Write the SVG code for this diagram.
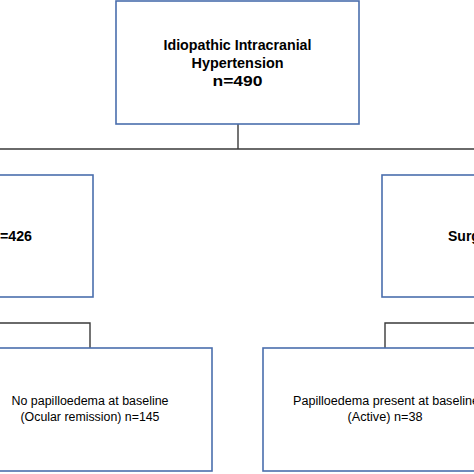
<svg xmlns="http://www.w3.org/2000/svg" width="474" height="474" viewBox="0 0 474 474">
<style>
.box{fill:#fff;stroke:#4a6ead;stroke-width:1.6}
.ln{fill:none;stroke:#3a3a3a;stroke-width:1.4}
.b{font-family:"Liberation Sans",Arial,sans-serif;font-weight:bold;font-size:14px;fill:#000;text-anchor:middle}
.r{font-family:"Liberation Sans",Arial,sans-serif;font-size:12.5px;fill:#000;text-anchor:middle}
</style>
<rect width="474" height="474" fill="#fff"/>
<g id="connectors">
<path class="ln" d="M238,124 V149 M0,149 H474"/>
<path class="ln" d="M0,323 H90 V348"/>
<path class="ln" d="M385,348 V323 H474"/>
</g>
<g id="iih">
<rect class="box" x="116" y="1" width="243" height="123"/>
<text class="b" x="237.5" y="50" textLength="148" lengthAdjust="spacingAndGlyphs">Idiopathic Intracranial</text>
<text class="b" x="237.5" y="68" textLength="92" lengthAdjust="spacingAndGlyphs">Hypertension</text>
<text class="b" x="237.5" y="86" textLength="50" lengthAdjust="spacingAndGlyphs">n=490</text>
</g>
<g id="medical">
<rect class="box" x="-60" y="175" width="153" height="122"/>
<text class="b" x="32" y="241" style="text-anchor:end" textLength="32" lengthAdjust="spacingAndGlyphs">=426</text>
</g>
<g id="surgical">
<rect class="box" x="382" y="175" width="153" height="122"/>
<text class="b" x="448" y="241" style="text-anchor:start">Surg</text>
</g>
<g id="no-papilloedema">
<rect class="box" x="-32" y="348" width="244" height="123"/>
<text class="r" x="90" y="405" textLength="157" lengthAdjust="spacingAndGlyphs">No papilloedema at baseline</text>
<text class="r" x="90" y="421" textLength="139" lengthAdjust="spacingAndGlyphs">(Ocular remission) n=145</text>
</g>
<g id="papilloedema">
<rect class="box" x="263" y="348" width="244" height="123"/>
<text class="r" x="293" y="405" style="text-anchor:start" textLength="186" lengthAdjust="spacingAndGlyphs">Papilloedema present at baseline</text>
<text class="r" x="385" y="421" textLength="75" lengthAdjust="spacingAndGlyphs">(Active)  n=38</text>
</g>
</svg>
